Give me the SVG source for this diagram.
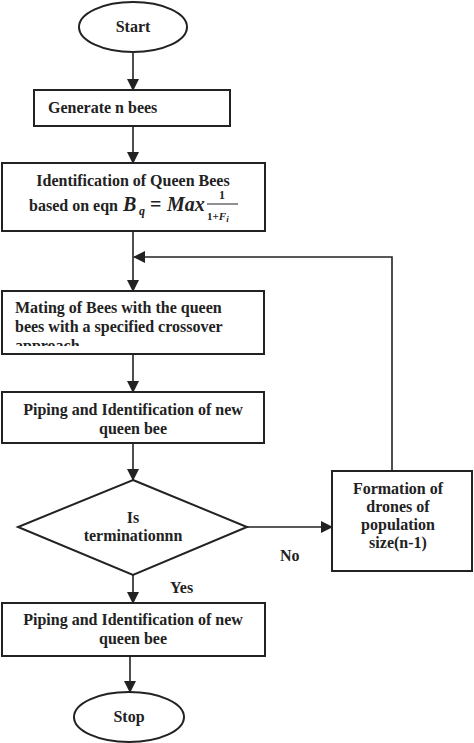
<svg xmlns="http://www.w3.org/2000/svg" width="474" height="743" viewBox="0 0 474 743">
<style>
.box{fill:#fff;stroke:#222;stroke-width:2}
.ln{fill:none;stroke:#222;stroke-width:1.6}
.t{font-family:"Liberation Serif","Times New Roman",serif;font-weight:bold;font-size:16px;fill:#222}
.c{text-anchor:middle}
.m{font-family:"Liberation Serif","Times New Roman",serif;font-weight:bold;fill:#222}
.i{font-style:italic}
</style>
<defs>
<marker id="ah" markerUnits="userSpaceOnUse" markerWidth="12" markerHeight="12" viewBox="0 0 12 12" refX="11" refY="6" orient="auto">
<path d="M0,0 L12,6 L0,12 Z" fill="#222"/>
</marker>
<clipPath id="clipM"><rect x="3" y="292" width="260" height="54"/></clipPath>
</defs>
<g id="connectors">
<line class="ln" x1="133" y1="52" x2="133" y2="90" marker-end="url(#ah)"/>
<line class="ln" x1="133" y1="126" x2="133" y2="163" marker-end="url(#ah)"/>
<line class="ln" x1="133" y1="231" x2="133" y2="291" marker-end="url(#ah)"/>
<polyline class="ln" points="392,471 392,257 134,257" marker-end="url(#ah)"/>
<line class="ln" x1="133" y1="354" x2="133" y2="392" marker-end="url(#ah)"/>
<line class="ln" x1="133" y1="443" x2="133" y2="480" marker-end="url(#ah)"/>
<line class="ln" x1="247" y1="527" x2="332" y2="527" marker-end="url(#ah)"/>
<line class="ln" x1="133" y1="575" x2="133" y2="603" marker-end="url(#ah)"/>
<line class="ln" x1="130" y1="656" x2="130" y2="692" marker-end="url(#ah)"/>
<text class="t" x="280" y="561">No</text>
<text class="t" x="170" y="593">Yes</text>
</g>
<g id="start">
<ellipse class="box" cx="133" cy="27" rx="54" ry="25"/>
<text class="t c" x="133" y="32">Start</text>
</g>
<g id="generate">
<rect class="box" x="34" y="90" width="196" height="36"/>
<text class="t" x="48" y="113">Generate n bees</text>
</g>
<g id="identification">
<rect class="box" x="2" y="163" width="263" height="68"/>
<text class="t c" x="133" y="186">Identification of Queen Bees</text>
<text class="t" x="29" y="211">based on eqn</text>
<text class="m i" x="123" y="211" font-size="20">B</text>
<text class="m i" x="139" y="215" font-size="12">q</text>
<text class="m" x="150" y="211" font-size="20">=</text>
<text class="m i" x="167" y="211" font-size="20">Max</text>
<text class="m c" x="222" y="199" font-size="12">1</text>
<line x1="207" y1="204" x2="238" y2="204" stroke="#222" stroke-width="1"/>
<text class="m" x="207" y="220" font-size="11">1+<tspan class="i">F</tspan><tspan class="i" font-size="9" dy="2">i</tspan></text>
</g>
<g id="mating">
<rect class="box" x="2" y="291" width="262" height="63"/>
<g clip-path="url(#clipM)">
<text class="t" x="15" y="313">Mating of Bees with the queen</text>
<text class="t" x="15" y="332">bees with a specified crossover</text>
<text class="t" x="15" y="351">approach</text>
</g>
</g>
<g id="piping1">
<rect class="box" x="2" y="392" width="262" height="51"/>
<text class="t c" x="133" y="415">Piping and Identification of new</text>
<text class="t c" x="133" y="434">queen bee</text>
</g>
<g id="decision">
<polygon class="box" points="133,480 247,527 133,575 18,527"/>
<text class="t c" x="133" y="523">Is</text>
<text class="t c" x="133" y="541">terminationnn</text>
</g>
<g id="formation">
<rect class="box" x="332" y="471" width="140" height="100"/>
<text class="t c" x="398" y="494">Formation of</text>
<text class="t c" x="398" y="512">drones of</text>
<text class="t c" x="398" y="530">population</text>
<text class="t c" x="398" y="548">size(n-1)</text>
</g>
<g id="piping2">
<rect class="box" x="2" y="603" width="263" height="53"/>
<text class="t c" x="133" y="625">Piping and Identification of new</text>
<text class="t c" x="133" y="644">queen bee</text>
</g>
<g id="stop">
<ellipse class="box" cx="129" cy="717" rx="55" ry="25"/>
<text class="t c" x="129" y="722">Stop</text>
</g>
</svg>
